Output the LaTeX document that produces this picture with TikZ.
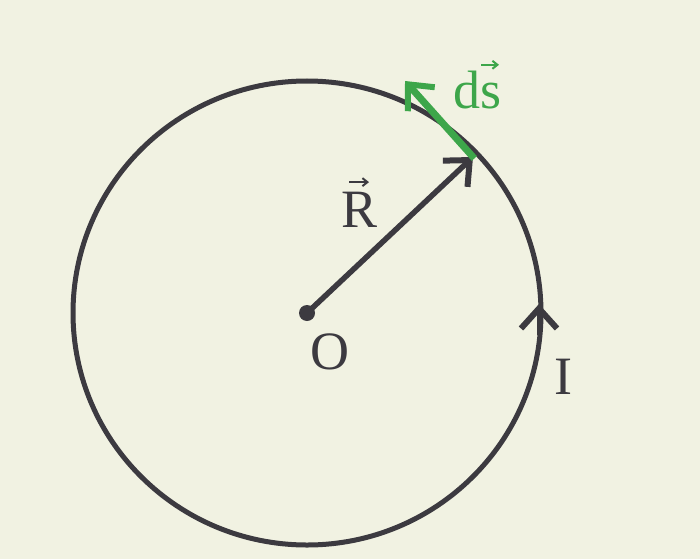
\documentclass[tikz,border=0pt]{standalone}
\usepackage{fontspec}
\setmainfont{Liberation Serif}
\usetikzlibrary{arrows.meta}
\definecolor{wire}{HTML}{3C3A40}
\definecolor{dsgreen}{HTML}{3DA64A}
\definecolor{paper}{HTML}{F1F2E2}
\begin{document}
\begin{tikzpicture}[x=1pt,y=-1pt,
  lbl/.style={font=\fontsize{54}{60}\selectfont, inner sep=0pt},
  chev/.style={-{Straight Barb[length=20pt,width=36pt,line width=6pt]}},
  overarrow/.style={line width=2.2pt, -{Straight Barb[length=5pt,width=8pt,line width=2pt]}}]
\fill[paper] (0,0) rectangle (700,559);
\useasboundingbox (0,0) rectangle (700,559);
\coordinate (O) at (307,313);
\coordinate (P) at (473,157);
\coordinate (T) at (405,81);
\coordinate (Itip) at (539,304);
\draw[wire, line width=5pt] (O) circle[x radius=234, y radius=232];
\fill[wire] (O) circle[radius=8];
\draw[wire, line width=5.5pt, chev] (O) -- (P);
\draw[dsgreen, line width=7pt, chev, shorten <=-2pt] (P) -- (T);
\draw[wire, line width=5pt, chev] (539,335) -- (Itip);
\node[lbl, wire] (Olab) at (330,352) {O};
\node[lbl, wire] (Rlab) at (360,210) {R};
\draw[wire, overarrow] ([xshift=-11pt,yshift=10pt]Rlab.north) -- ([xshift=9pt,yshift=10pt]Rlab.north);
\node[lbl, wire] (Ilab) at (563,377) {I};
\node[lbl, dsgreen] (dslab) at (477,90) {ds};
\draw[dsgreen, overarrow] ([xshift=4pt,yshift=6pt]dslab.north) -- ([xshift=22pt,yshift=6pt]dslab.north);
\end{tikzpicture}
\end{document}
